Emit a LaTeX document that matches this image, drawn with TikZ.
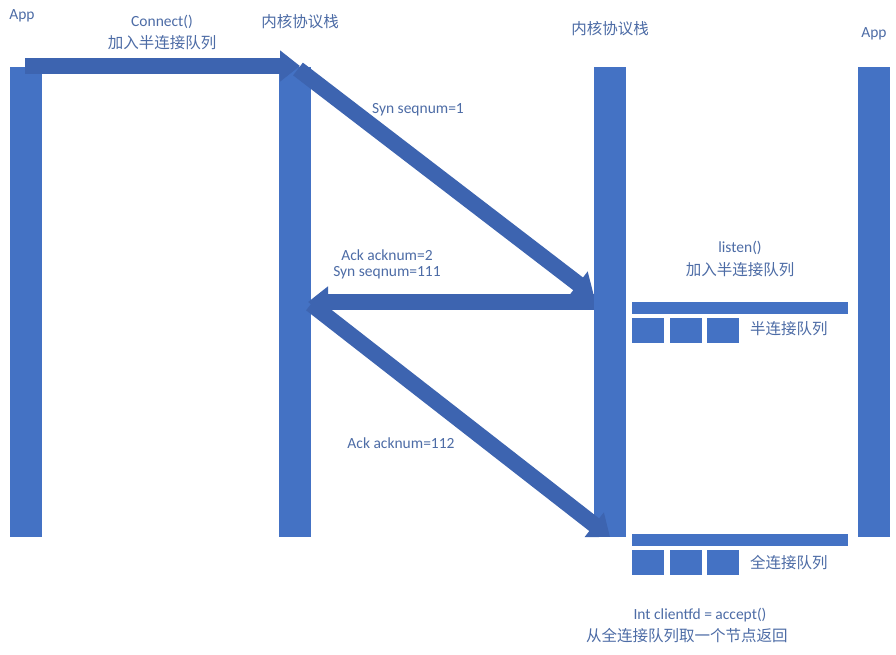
\documentclass[tikz,border=0pt]{standalone}
\usepackage{fontspec}
\setmainfont{Carlito}
\newfontfamily\cjk{Noto Sans CJK SC}
\usetikzlibrary{arrows.meta}
\definecolor{barc}{HTML}{4472C4}
\definecolor{arrowc}{HTML}{3D64B0}
\definecolor{txtc}{HTML}{4D6CA6}
\tikzset{
  bar/.style={rectangle, fill=barc, draw=none, inner sep=0pt, minimum width=32pt, minimum height=470pt},
  qbar/.style={rectangle, fill=barc, draw=none, inner sep=0pt, minimum width=216pt, minimum height=12pt},
  qbox/.style={rectangle, fill=barc, draw=none, inner sep=0pt, minimum width=32pt, minimum height=25pt},
  fat/.style={line width=16pt, draw=arrowc, -{Triangle[length=20pt,width=30pt]}},
  lbl/.style={text=txtc, inner sep=0pt, font=\fontsize{15.5}{18}\selectfont},
  clbl/.style={text=txtc, inner sep=0pt, font=\fontsize{15.5}{18}\selectfont\cjk},
}
\begin{document}
\begin{tikzpicture}[x=1pt,y=-1pt]
\useasboundingbox[fill=white] (0,0) rectangle (896,654);
% lifelines
\node[bar] (app1) at (26,302) {};
\node[bar] (k1) at (295,302) {};
\node[bar] (k2) at (610,302) {};
\node[bar] (app2) at (874,302) {};
% headings
\node[lbl] (t1) at (22,16) {App};
\node[lbl] (t2) at (162,22) {Connect()};
\node[clbl] (t3) at (162,43) {加入半连接队列};
\node[clbl] (t4) at (300,22) {内核协议栈};
\node[clbl] (t5) at (610,29) {内核协议栈};
\node[lbl] (t6) at (874,34) {App};
% arrow end points
\coordinate (a1s) at (25,66);
\coordinate (a1e) at (300,66);
\coordinate (a2s) at (298,69);
\coordinate (a2e) at (594,296);
\coordinate (a3s) at (594,302);
\coordinate (a3e) at (308,302);
\coordinate (a4s) at (311,304);
\coordinate (a4e) at (610,537);
\draw[fat] (a1s) -- (a1e);
\draw[fat] (a2s) -- (a2e);
\draw[fat] (a3s) -- (a3e);
\draw[fat] (a4s) -- (a4e);
% arrow labels
\node[lbl] (l1) at (418,110) {Syn seqnum=1};
\node[lbl] (l2) at (387,255) {Ack acknum=2};
\node[lbl] (l3) at (387,273) {Syn seqnum=111};
\node[lbl] (l4) at (401,443) {Ack acknum=112};
% listen
\node[lbl] (l5) at (740,248) {listen()};
\node[clbl] (l6) at (740,270) {加入半连接队列};
% half queue
\node[qbar] (hq) at (740,308) {};
\node[qbox] (h1) at (648,330.5) {};
\node[qbox] (h2) at (686,330.5) {};
\node[qbox] (h3) at (723,330.5) {};
\node[clbl, anchor=west] (hqt) at (750,329) {半连接队列};
% full queue
\node[qbar] (fq) at (740,540) {};
\node[qbox] (f1) at (648,562.5) {};
\node[qbox] (f2) at (686,562.5) {};
\node[qbox] (f3) at (723,562.5) {};
\node[clbl, anchor=west] (fqt) at (750,563) {全连接队列};
% accept
\node[lbl] (acc) at (700,615) {Int clientfd = accept()};
\node[clbl, anchor=west] (acc2) at (586,636) {从全连接队列取一个节点返回};
\end{tikzpicture}
\end{document}
